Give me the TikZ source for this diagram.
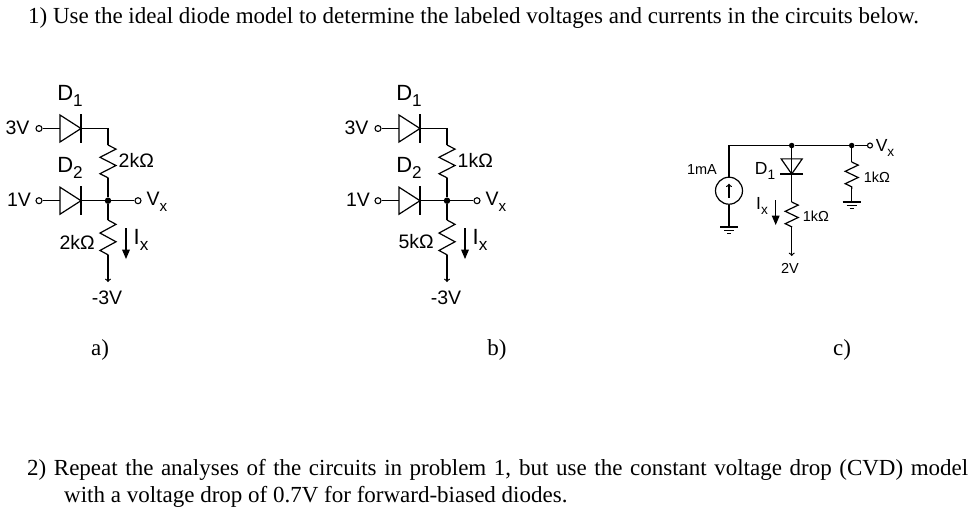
\documentclass[tikz,border=0pt]{standalone}
\usepackage{fontspec}
\setmainfont{Liberation Serif}
\setsansfont{Liberation Sans}
\usetikzlibrary{arrows, decorations.pathmorphing, calc}

\tikzset{
	wire/.style={line width=1.2pt},
	res/.style={wire, decorate, decoration={zigzag, segment length=#1, amplitude=8pt}},
	resc/.style={wire, decorate, decoration={zigzag, segment length=12.4pt, amplitude=6.5pt}},
	term/.style={circle, draw, line width=1.1pt, fill=white, inner sep=0pt, minimum size=6pt},
	junc/.style={circle, fill, inner sep=0pt, minimum size=6.5pt},
	lab/.style={font=\sffamily\fontsize{19.5}{19.5}\selectfont, inner sep=0pt},
	labb/.style={font=\sffamily\fontsize{22}{22}\selectfont, inner sep=0pt},
	labc/.style={font=\sffamily\fontsize{14.5}{14.5}\selectfont, inner sep=0pt},
	labd/.style={font=\sffamily\fontsize{17.5}{17.5}\selectfont, inner sep=0pt},
	txt/.style={font=\rmfamily\fontsize{23}{24}\selectfont, inner sep=0pt},
	pics/diode/.style={code={
		\draw [wire, line join=miter] (-21,-13.5) -- (-21,13.5) -- (0,0) -- cycle;
		\draw [wire] (0,-14.5) -- (0,14.5);
	}},
	pics/gnd/.style={code={
		\draw [wire] (-9,0) -- (9,0);
		\draw [wire] (-5,3.4) -- (5,3.4);
		\draw [wire] (-2,6.8) -- (2,6.8);
	}},
}

% subscript, larger than \textsubscript
\newcommand{\sbs}[1]{\raisebox{-.28em}{\scalebox{.78}{#1}}}

% one of the two diode circuits
\newcommand{\twodiode}[4]{
	\begin{scope}[xshift=#1]
		\node [term] (T1#2) at (39,128.5) {};
		\node [term] (T2#2) at (39,200.7) {};
		\node [term] (X#2) at (138,200.7) {};
		\node [junc] (J#2) at (108,200.7) {};
		\coordinate (A1#2) at (60,128.5);
		\coordinate (K1#2) at (81,128.5);
		\coordinate (A2#2) at (60,200.7);
		\coordinate (K2#2) at (81,200.7);
		\coordinate (C#2) at (108,128.5);
		\coordinate (R1#2) at (108,145);
		\coordinate (R2#2) at (108,178);
		\coordinate (R3#2) at (108,220);
		\coordinate (R4#2) at (108,255);
		\coordinate (E#2) at (108,282);
		\coordinate (I1#2) at (126,228);
		\coordinate (I2#2) at (126,259);
		\draw [wire] (T1#2) -- (A1#2);
		\draw [wire] (T2#2) -- (A2#2);
		\pic at (K1#2) {diode};
		\pic at (K2#2) {diode};
		\draw [wire] (K1#2) -- (C#2) -- (R1#2);
		\draw [res=16.4pt] (R1#2) -- (R2#2);
		\draw [wire] (R2#2) -- (J#2);
		\draw [wire] (K2#2) -- (J#2) -- (X#2);
		\draw [wire] (J#2) -- (R3#2);
		\draw [res=17.4pt] (R3#2) -- (R4#2);
		\draw [wire, -to] (R4#2) -- (E#2);
		\draw [wire, -triangle 45] (I1#2) -- (I2#2);
		\node [lab] (L1#2) at (17.5,128) {3V};
		\node [lab] (L2#2) at (19,200) {1V};
		\node [labb] (D1#2) at (70,96) {D\sbs{1}};
		\node [labb] (D2#2) at (70,168) {D\sbs{2}};
		\node [lab, anchor=west] (R5#2) at (118.5,160.5) {#3};
		\node [lab, anchor=east] (R6#2) at (95,242) {#4};
		\node [lab] (VX#2) at (157,202) {V\sbs{x}};
		\node [labb] (IX#2) at (141,240) {I\sbs{x}};
		\node [lab] (VN#2) at (107,298) {-3V};
	\end{scope}
}

\begin{document}
\begin{tikzpicture}[x=1pt, y=-1pt]
	\useasboundingbox (0,0) rectangle (972,512);
	\fill [white] (0,0) rectangle (972,512);
	\node [txt, anchor=west] (Q1) at (28,18) {1) Use the ideal diode model to determine the labeled voltages and currents in the circuits below.};

	\twodiode{0pt}{a}{2kΩ}{2kΩ}
	\twodiode{339pt}{b}{1kΩ}{5kΩ}

	\coordinate (S) at (729,145.5);
	\node [circle, draw, line width=1.2pt, inner sep=0pt, minimum size=27pt] (I) at (729,190.7) {};
	\coordinate (G1) at (729,227);
	\node [junc, minimum size=5.5pt] (J1) at (791.7,145.5) {};
	\node [junc, minimum size=5.5pt] (J2) at (851.7,145.5) {};
	\node [term, minimum size=5pt] (X) at (870,145.5) {};
	\coordinate (DK) at (791.7,174);
	\coordinate (R1) at (791.7,202);
	\coordinate (R2) at (791.7,227);
	\coordinate (E) at (791.7,256);
	\coordinate (R3) at (851.7,162);
	\coordinate (R4) at (851.7,189);
	\coordinate (G2) at (851.7,202);
	\draw [wire] (I) -- (S) -- (J1) -- (J2) -- (X);
	\draw [wire] (I) -- (G1);
	\pic at (G1) {gnd};
	\draw [wire, -to] ($(I)+(0,7)$) -- ($(I)+(0,-7)$);
	\draw [wire] (J1) -- (DK) -- (R1);
	\pic [rotate=-90, xscale=.72, yscale=.78] at (DK) {diode};
	\draw [resc] (R1) -- (R2);
	\draw [wire, -to] (R2) -- (E);
	\draw [wire] (J2) -- (R3);
	\draw [resc] (R3) -- (R4);
	\draw [wire] (R4) -- (G2);
	\pic at (G2) {gnd};
	\coordinate (I1) at (775.7,200);
	\coordinate (I2) at (775.7,225);
	\draw [wire, -triangle 45] (I1) -- (I2);
	\node [labc] (L1) at (702,170) {1mA};
	\node [labd] (D1) at (765,171) {D\sbs{1}};
	\node [labc] (R5) at (877,177) {1kΩ};
	\node [labc] (R6) at (816,216) {1kΩ};
	\node [labd] (VX) at (885,148) {V\sbs{x}};
	\node [labd] (IX) at (762,206) {I\sbs{x}};
	\node [labc] (V2) at (790,268) {2V};

	\node [txt] (Ta) at (100,350) {a)};
	\node [txt] (Tb) at (497,350) {b)};
	\node [txt] (Tc) at (842,350) {c)};
	\node [txt, anchor=west] (Q2) at (27,470) {\hbox to 941pt{2) Repeat the analyses of the circuits in problem 1, but use the constant voltage drop (CVD) model}};
	\node [txt, anchor=west] (Q3) at (64,497) {with a voltage drop of 0.7V for forward-biased diodes.};
\end{tikzpicture}
\end{document}
